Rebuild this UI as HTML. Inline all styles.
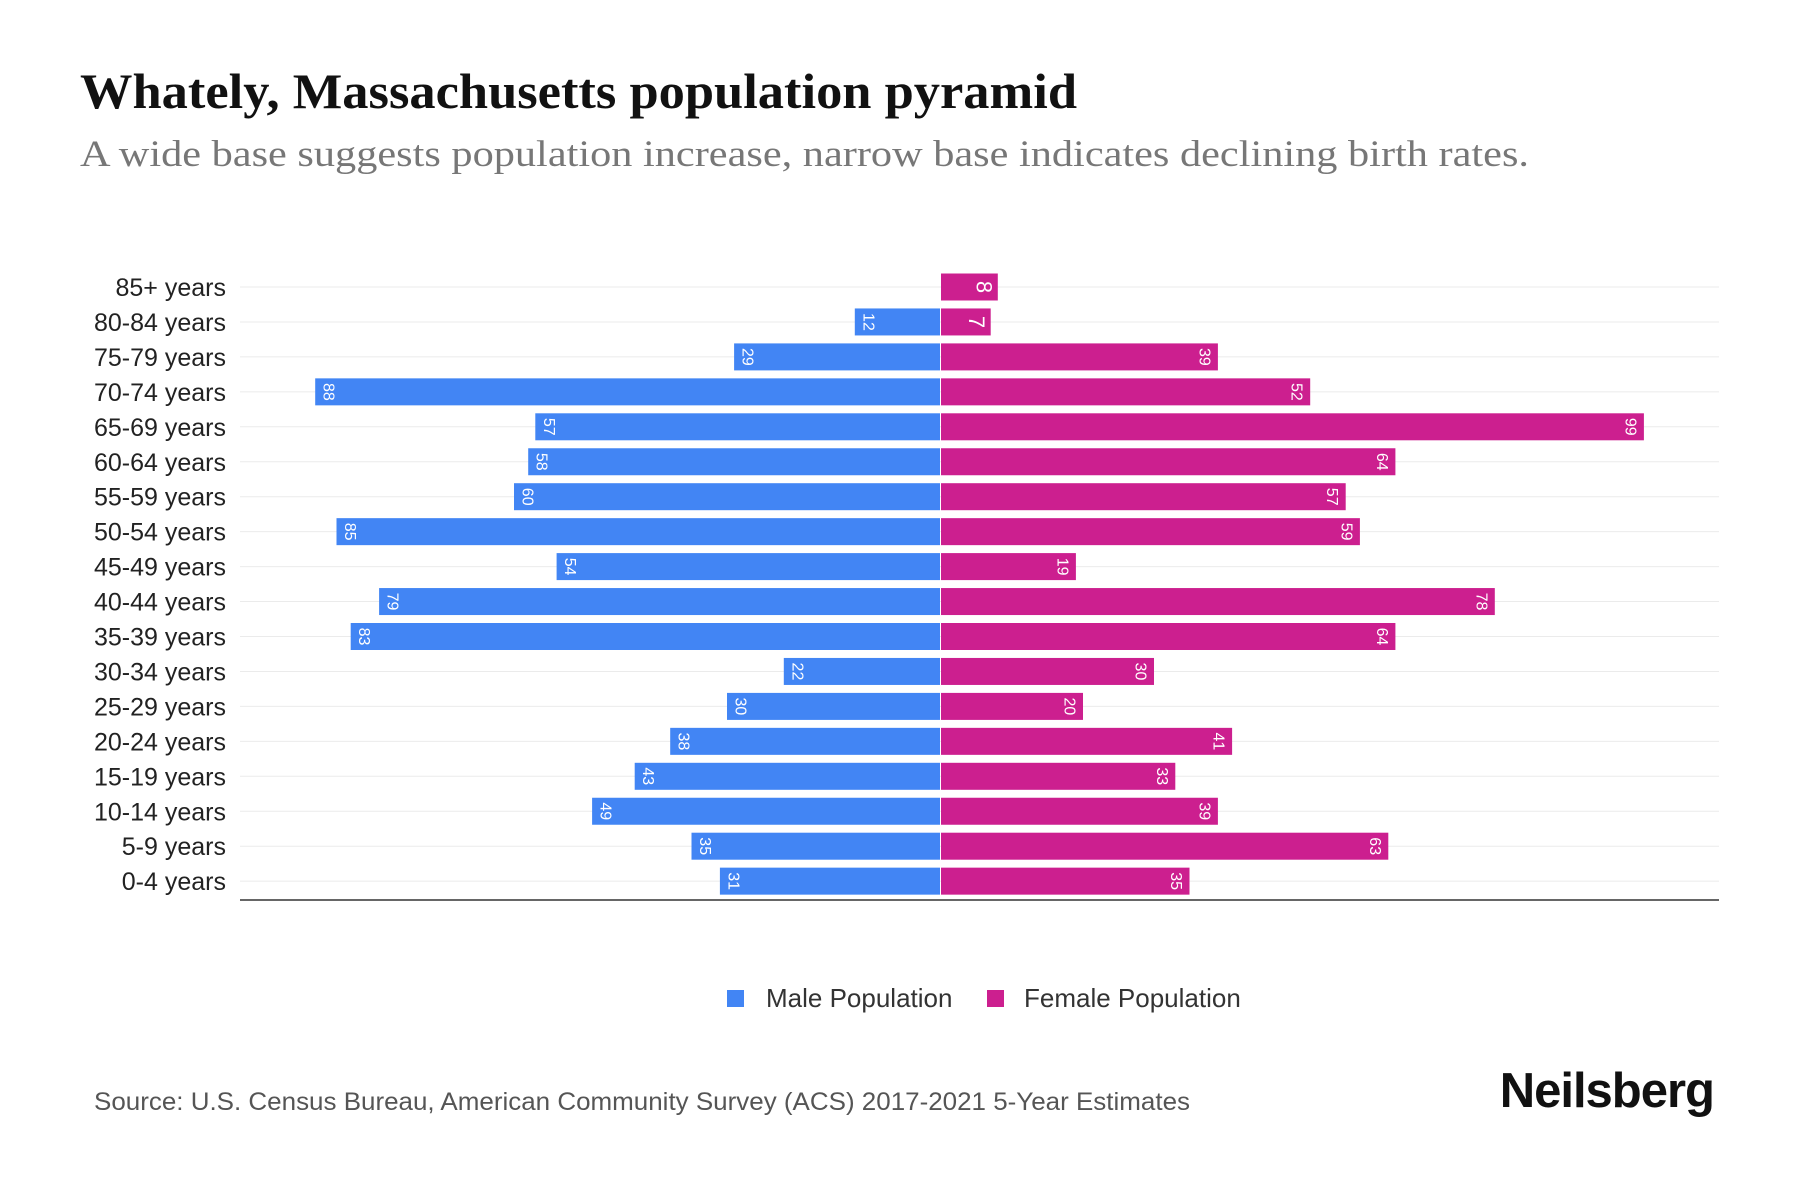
<!DOCTYPE html>
<html><head><meta charset="utf-8">
<style>
html,body{margin:0;padding:0;background:#fff;}
svg{display:block;}
</style></head>
<body>
<svg id="chart" width="1800" height="1200" viewBox="0 0 1800 1200" xmlns="http://www.w3.org/2000/svg">
  <text x="80" y="108" font-family="Liberation Serif, serif" font-weight="bold" font-size="50" fill="#111" textLength="997" lengthAdjust="spacingAndGlyphs">Whately, Massachusetts population pyramid</text>
  <text x="80" y="166" font-family="Liberation Serif, serif" font-size="37" fill="#777" textLength="1449" lengthAdjust="spacingAndGlyphs">A wide base suggests population increase, narrow base indicates declining birth rates.</text>
  <g id="grid"></g>
  <g id="bars"></g>
  <g id="labels"></g>
  <line x1="240" x2="1719" y1="900" y2="900" stroke="#333" stroke-width="1.5"/>
  <g>
    <g>
      <rect x="727" y="990" width="17" height="17" fill="#4285f4"/>
      <text x="766" y="1007" font-family="Liberation Sans, sans-serif" font-size="26" fill="#333">Male Population</text>
    </g>
    <g>
      <rect x="987" y="990" width="17" height="17" fill="#cc1f8f"/>
      <text x="1024" y="1007" font-family="Liberation Sans, sans-serif" font-size="26" fill="#333">Female Population</text>
    </g>
  </g>
  <text x="94" y="1110" font-family="Liberation Sans, sans-serif" font-size="25" fill="#555" textLength="1096" lengthAdjust="spacingAndGlyphs">Source: U.S. Census Bureau, American Community Survey (ACS) 2017-2021 5-Year Estimates</text>
  <text x="1714" y="1107" text-anchor="end" font-family="Liberation Sans, sans-serif" font-weight="bold" font-size="49" fill="#111" letter-spacing="-1">Neilsberg</text>
</svg>
<script>
const categories = ["85+ years","80-84 years","75-79 years","70-74 years","65-69 years","60-64 years","55-59 years","50-54 years","45-49 years","40-44 years","35-39 years","30-34 years","25-29 years","20-24 years","15-19 years","10-14 years","5-9 years","0-4 years"];
const maleValues = [0,12,29,88,57,58,60,85,54,79,83,22,30,38,43,49,35,31];
const femaleValues = [8,7,39,52,99,64,57,59,19,78,64,30,20,41,33,39,63,35];

const NS = "http://www.w3.org/2000/svg";
const centerX = 940, pxPerUnit = 7.1;
const firstY = 287, rowStep = 34.95, barH = 27;
function xScale(v){ return v * pxPerUnit; }
function yScale(i){ return firstY + i * rowStep; }

const grid = document.getElementById('grid');
const bars = document.getElementById('bars');
const labels = document.getElementById('labels');

function mk(tag, attrs){ const e=document.createElementNS(NS,tag); for(const k in attrs) e.setAttribute(k,attrs[k]); return e; }

categories.forEach((cat,i)=>{
  const cy = yScale(i);
  const gl = mk('line',{x1:240,x2:1719,y1:cy,y2:cy,stroke:'#ebebeb','stroke-width':1});
  
  
  grid.appendChild(gl);

  const lt = mk('text',{x:226,y:cy+9,'text-anchor':'end','font-family':'Liberation Sans, sans-serif','font-size':25,fill:'#222'});
  lt.textContent = cat;
  
  
  labels.appendChild(lt);

  const m = maleValues[i];
  if (m > 0) {
    const w = xScale(m);
    const r = mk('rect',{x:centerX-w,y:cy-barH/2,width:w,height:barH,fill:'#4285f4'});
    
    
    bars.appendChild(r);
    const tx = centerX - w + 13, ty = cy;
    const t = mk('text',{x:tx,y:ty,transform:`rotate(90 ${tx} ${ty})`,'text-anchor':'middle','dominant-baseline':'central','font-family':'Liberation Sans, sans-serif','font-size':m<10?20:16,fill:'#fff'});
    t.textContent = m;
    
    
    bars.appendChild(t);
  }
  const f = femaleValues[i];
  if (f > 0) {
    const w = xScale(f);
    const r = mk('rect',{x:centerX+1,y:cy-barH/2,width:w,height:barH,fill:'#cc1f8f'});
    
    
    bars.appendChild(r);
    const tx = centerX + w - 13, ty = cy;
    const t = mk('text',{x:tx,y:ty,transform:`rotate(90 ${tx} ${ty})`,'text-anchor':'middle','dominant-baseline':'central','font-family':'Liberation Sans, sans-serif','font-size':f<10?22:16,fill:'#fff'});
    t.textContent = f;
    
    
    bars.appendChild(t);
  }
});
</script>
</body></html>
